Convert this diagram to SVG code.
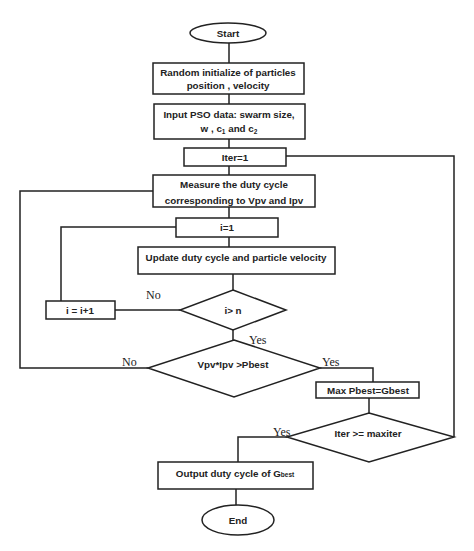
<svg xmlns="http://www.w3.org/2000/svg" width="474" height="551" viewBox="0 0 474 551">
<style>
.n{fill:#fff;stroke:#222;stroke-width:1.5}
.t{font-family:"Liberation Sans",Arial,sans-serif;font-weight:bold;font-size:9.8px;fill:#222;text-anchor:middle}
.l{font-family:"Liberation Serif","Times New Roman",serif;font-size:12px;fill:#222}
.c{fill:none;stroke:#222;stroke-width:1.5}
</style>
<rect width="474" height="551" fill="#fff"/>
<g id="connectors">
<path class="c" d="M229 43V63M229 94V104M229 139V148M229 166V175M229 207V218M229 237V247M233 274V290M233 330V340"/>
<path class="c" d="M286 156H454V437"/>
<path class="c" d="M153 191H20V368H148"/>
<path class="c" d="M176 227H61V301"/>
<path class="c" d="M180 310H115"/>
<path class="c" d="M320 368H373V382"/>
<path class="c" d="M369 398V413"/>
<path class="c" d="M287 437H238V462"/>
<path class="c" d="M236 489V505"/>
</g>
<g id="start"><ellipse class="n" cx="228" cy="33" rx="38" ry="10"/><text class="t" x="228" y="36.5">Start</text></g>
<g id="init"><rect class="n" x="153" y="63" width="151" height="31"/><text class="t" x="228" y="75.5">Random initialize of particles</text><text class="t" x="228" y="88.5">position , velocity</text></g>
<g id="input"><rect class="n" x="154" y="104" width="151" height="35"/><text class="t" x="229" y="117.5">Input PSO data: swarm size,</text><text class="t" x="229" y="131.5">w , c<tspan font-size="6.5" dy="2">1</tspan><tspan dy="-2"> and c</tspan><tspan font-size="6.5" dy="2">2</tspan></text></g>
<g id="iter1"><rect class="n" x="184" y="148" width="102" height="18"/><text class="t" x="235" y="160.5">Iter=1</text></g>
<g id="measure"><rect class="n" x="153" y="175" width="162" height="32"/><text class="t" x="234" y="187.5">Measure the duty cycle</text><text class="t" x="234" y="203.5">corresponding to Vpv and Ipv</text></g>
<g id="i1"><rect class="n" x="176" y="218" width="102" height="19"/><text class="t" x="227" y="230.5">i=1</text></g>
<g id="update"><rect class="n" x="138" y="247" width="197" height="27"/><text class="t" x="236" y="260.5">Update duty cycle and particle velocity</text></g>
<g id="ign"><polygon class="n" points="233,290 286,310 233,330 180,310"/><text class="t" x="233" y="313.5">i&gt; n</text></g>
<g id="inc"><rect class="n" x="46" y="301" width="69" height="18"/><text class="t" x="80" y="313.5">i = i+1</text></g>
<g id="vpv"><polygon class="n" points="234,340 320,368 234,397 148,368"/><text class="t" x="233" y="367.5">Vpv*Ipv &gt;Pbest</text></g>
<g id="max"><rect class="n" x="316" y="382" width="103" height="16"/><text class="t" x="368" y="393.5">Max Pbest=Gbest</text></g>
<g id="itermax"><polygon class="n" points="369,413 454,437 369,462 287,437"/><text class="t" x="368" y="436.5">Iter &gt;= maxiter</text></g>
<g id="output"><rect class="n" x="158" y="462" width="155" height="27"/><text class="t" x="235" y="476.5">Output duty cycle of G<tspan font-size="6.5">best</tspan></text></g>
<g id="end"><ellipse class="n" cx="238" cy="520" rx="36" ry="15"/><text class="t" x="238" y="523.5">End</text></g>
<g id="labels">
<text class="l" x="146" y="299">No</text>
<text class="l" x="249" y="344">Yes</text>
<text class="l" x="122" y="366">No</text>
<text class="l" x="322" y="366">Yes</text>
<text class="l" x="273" y="436">Yes</text>
</g>
</svg>
